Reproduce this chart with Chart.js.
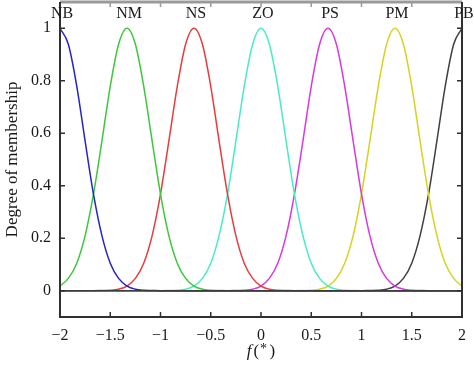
<!DOCTYPE html>
<html>
<head>
<meta charset="utf-8">
<script src="https://cdn.jsdelivr.net/npm/chart.js@4.4.1/dist/chart.umd.min.js"></script>
<style>
  body { margin: 0; background: #fff; }
  canvas { display: block; }
</style>
</head>
<body>
<canvas id="mfChart" width="474" height="368"></canvas>
<script>
// x positions (step 1/12 from -2 to 2)
const xVals = [-2, -1.917, -1.833, -1.75, -1.667, -1.583, -1.5, -1.417, -1.333, -1.25, -1.167, -1.083,
  -1, -0.917, -0.833, -0.75, -0.667, -0.583, -0.5, -0.417, -0.333, -0.25, -0.167, -0.083,
  0, 0.083, 0.167, 0.25, 0.333, 0.417, 0.5, 0.583, 0.667, 0.75, 0.833, 0.917,
  1, 1.083, 1.167, 1.25, 1.333, 1.417, 1.5, 1.583, 1.667, 1.75, 1.833, 1.917, 2];

const setNames = ["NB", "NM", "NS", "ZO", "PS", "PM", "PB"];
const setCenters = [-2, -1.333, -0.667, 0, 0.667, 1.333, 2];
const setColors = ["#2424c8", "#3cc83c", "#e83c3c", "#48ecc4", "#d838e0", "#d4d420", "#404040"];

const nbVals = [1, .939, .779, .570, .368, .210, .105, .047, .018, .006, .002, .001,
  0, 0, 0, 0, 0, 0, 0, 0, 0, 0, 0, 0, 0, 0, 0, 0, 0, 0, 0, 0, 0, 0, 0, 0, 0, 0, 0, 0, 0, 0, 0, 0, 0, 0, 0, 0, 0];
const nmVals = [.018, .047, .105, .210, .368, .570, .779, .939, 1, .939, .779, .570, .368, .210, .105, .047, .018, .006, .002, .001,
  0, 0, 0, 0, 0, 0, 0, 0, 0, 0, 0, 0, 0, 0, 0, 0, 0, 0, 0, 0, 0, 0, 0, 0, 0, 0, 0, 0, 0];
const nsVals = [0, 0, 0, 0, 0,
  .001, .002, .006, .018, .047, .105, .210, .368, .570, .779, .939, 1, .939, .779, .570, .368, .210, .105, .047, .018, .006, .002, .001,
  0, 0, 0, 0, 0, 0, 0, 0, 0, 0, 0, 0, 0, 0, 0, 0, 0, 0, 0, 0, 0];
const zoVals = [0, 0, 0, 0, 0, 0, 0, 0, 0, 0, 0, 0, 0,
  .001, .002, .006, .018, .047, .105, .210, .368, .570, .779, .939, 1, .939, .779, .570, .368, .210, .105, .047, .018, .006, .002, .001,
  0, 0, 0, 0, 0, 0, 0, 0, 0, 0, 0, 0, 0];
const psVals = [0, 0, 0, 0, 0, 0, 0, 0, 0, 0, 0, 0, 0, 0, 0, 0, 0, 0, 0, 0, 0,
  .001, .002, .006, .018, .047, .105, .210, .368, .570, .779, .939, 1, .939, .779, .570, .368, .210, .105, .047, .018, .006, .002, .001,
  0, 0, 0, 0, 0];
const pmVals = [0, 0, 0, 0, 0, 0, 0, 0, 0, 0, 0, 0, 0, 0, 0, 0, 0, 0, 0, 0, 0, 0, 0, 0, 0, 0, 0, 0, 0,
  .001, .002, .006, .018, .047, .105, .210, .368, .570, .779, .939, 1, .939, .779, .570, .368, .210, .105, .047, .018];
const pbVals = [0, 0, 0, 0, 0, 0, 0, 0, 0, 0, 0, 0, 0, 0, 0, 0, 0, 0, 0, 0, 0, 0, 0, 0, 0, 0, 0, 0, 0, 0, 0, 0, 0, 0, 0, 0, 0,
  .001, .002, .006, .018, .047, .105, .210, .368, .570, .779, .939, 1];

const xTicks = [-2, -1.5, -1, -0.5, 0, 0.5, 1, 1.5, 2];
const yTicks = [0, 0.2, 0.4, 0.6, 0.8, 1];

const allSeries = [nbVals, nmVals, nsVals, zoVals, psVals, pmVals, pbVals];
const serif = "'Liberation Serif', 'DejaVu Serif', serif";

function fmt(v) {
  return String(v).replace("-", "\u2212");
}

function noPad(s) {
  s.paddingTop = 0;
  s.paddingBottom = 0;
  s.paddingLeft = 0;
  s.paddingRight = 0;
}

const frame = {
  id: "frame",
  afterDatasetsDraw(chart) {
    const c = chart.ctx, a = chart.chartArea, y0 = chart.scales.y.getPixelForValue(0);
    c.save();
    c.strokeStyle = "#3c3c3c";
    c.lineWidth = 1.5;
    c.beginPath();
    c.moveTo(a.left, y0);
    c.lineTo(a.right, y0);
    c.stroke();
    c.restore();
  },
  afterDraw(chart) {
    const c = chart.ctx, a = chart.chartArea;
    const xs = chart.scales.x, ys = chart.scales.y;
    c.save();
    // top border (grey)
    c.strokeStyle = "#9a9a9a";
    c.lineWidth = 3;
    c.beginPath();
    c.moveTo(a.left, a.top);
    c.lineTo(a.right, a.top);
    c.stroke();
    c.lineWidth = 1.5;
    xTicks.forEach(function (t) {
      const px = xs.getPixelForValue(t);
      c.beginPath();
      c.moveTo(px, a.top);
      c.lineTo(px, a.top + 5);
      c.stroke();
    });
    // left, bottom, right
    c.strokeStyle = "#303030";
    c.lineWidth = 2;
    c.beginPath();
    c.moveTo(a.left, a.top);
    c.lineTo(a.left, a.bottom);
    c.lineTo(a.right, a.bottom);
    c.lineTo(a.right, a.top);
    c.stroke();
    c.lineWidth = 1.5;
    xTicks.forEach(function (t) {
      const px = xs.getPixelForValue(t);
      c.beginPath();
      c.moveTo(px, a.bottom);
      c.lineTo(px, a.bottom - 5);
      c.stroke();
    });
    yTicks.forEach(function (t) {
      const py = ys.getPixelForValue(t);
      c.beginPath();
      c.moveTo(a.left, py);
      c.lineTo(a.left + 5, py);
      c.moveTo(a.right, py);
      c.lineTo(a.right - 5, py);
      c.stroke();
    });
    // set names on top
    c.fillStyle = "#1a1a1a";
    c.font = "16px " + serif;
    c.textAlign = "center";
    c.textBaseline = "middle";
    setNames.forEach(function (n, i) {
      c.fillText(n, xs.getPixelForValue(setCenters[i]) + 2, 14);
    });
    // x title f(*)
    const cx = (a.left + a.right) / 2, ty = 356;
    c.textAlign = "left";
    c.textBaseline = "alphabetic";
    c.font = "italic 17px " + serif;
    const fw = c.measureText("f").width;
    c.font = "17px " + serif;
    const pw = c.measureText("(").width;
    const sw = c.measureText("*").width;
    const total = fw + 2 + pw * 2 + sw + 2;
    let x0 = cx - total / 2;
    c.font = "italic 17px " + serif;
    c.fillText("f", x0, ty);
    x0 += fw + 2;
    c.font = "17px " + serif;
    c.fillText("(", x0, ty);
    x0 += pw;
    c.font = "14px " + serif;
    c.fillText("*", x0 + 1, ty - 3);
    x0 += sw + 2;
    c.font = "17px " + serif;
    c.fillText(")", x0, ty);
    c.restore();
  }
};

new Chart(document.getElementById("mfChart"), {
  type: "line",
  data: {
    labels: xVals,
    datasets: setNames.map(function (n, i) {
      return {
        label: n,
        data: xVals.map(function (x, j) { return { x: x, y: allSeries[i][j] }; }),
        borderColor: setColors[i],
        borderWidth: 1.5,
        pointRadius: 0,
        fill: false,
        cubicInterpolationMode: "monotone"
      };
    })
  },
  options: {
    responsive: false,
    animation: false,
    devicePixelRatio: 1,
    layout: { padding: { top: 2, right: 12, left: 0, bottom: 0 } },
    plugins: { legend: { display: false }, tooltip: { enabled: false } },
    scales: {
      x: {
        type: "linear",
        min: -2,
        max: 2,
        afterBuildTicks: function (s) { s.ticks = xTicks.map(function (v) { return { value: v }; }); },
        afterFit: function (s) { s.height = 51; noPad(s); },
        grid: { display: false, drawTicks: false },
        border: { display: false },
        ticks: {
          padding: 9,
          color: "#1a1a1a",
          font: { family: serif, size: 16 },
          maxRotation: 0,
          callback: function (v) { return fmt(v); }
        }
      },
      y: {
        min: -0.1,
        max: 1.1,
        afterBuildTicks: function (s) { s.ticks = yTicks.map(function (v) { return { value: v }; }); },
        afterFit: function (s) { s.width = 60; noPad(s); },
        grid: { display: false, drawTicks: false },
        border: { display: false },
        title: {
          display: true,
          text: "Degree of membership",
          color: "#1a1a1a",
          font: { family: serif, size: 17 },
          padding: { top: 2, bottom: 0 }
        },
        ticks: {
          padding: 9,
          color: "#1a1a1a",
          font: { family: serif, size: 16 },
          callback: function (v) { return fmt(v); }
        }
      }
    }
  },
  plugins: [frame]
});
</script>
</body>
</html>
